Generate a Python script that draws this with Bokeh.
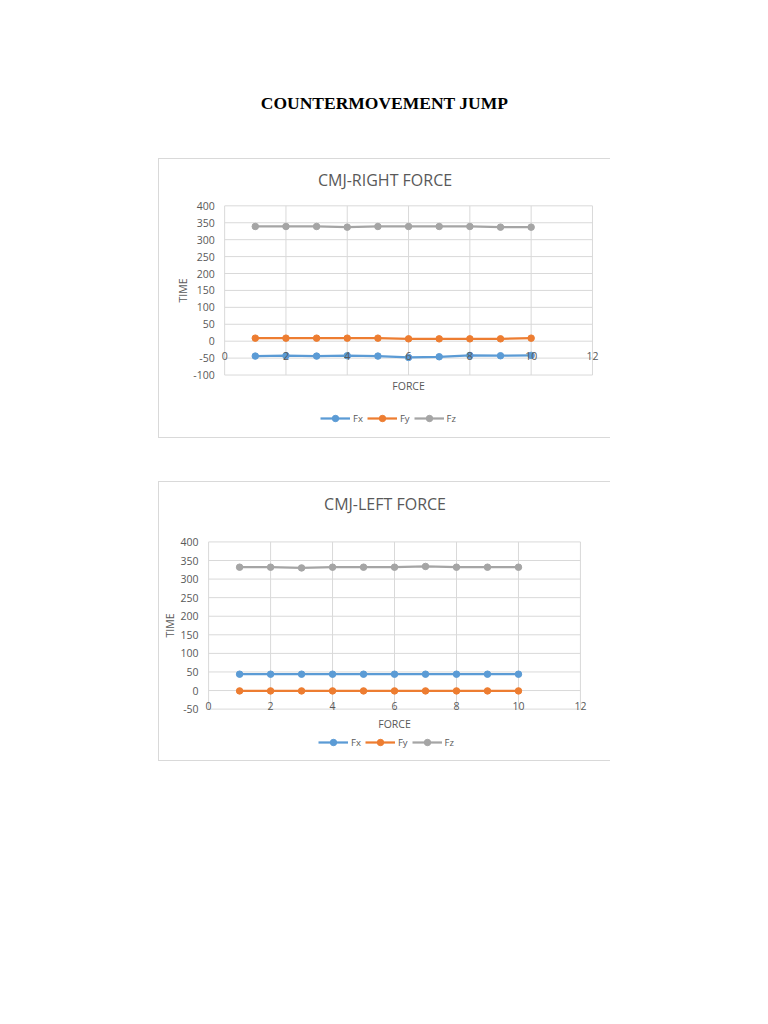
from bokeh.plotting import figure
from bokeh.models import Label, Legend, LegendItem, Spacer, FixedTicker, LinearAxis
from bokeh.layouts import column, row
from bokeh.embed import file_html
from bokeh.resources import INLINE

# ---------------- data ----------------
page_title = "COUNTERMOVEMENT JUMP"

right_title = "CMJ-RIGHT FORCE"
right_x = [1, 2, 3, 4, 5, 6, 7, 8, 9, 10]
right_fx = [-44, -43, -44, -43, -44, -48, -46, -42, -43, -42]
right_fy = [9, 9, 9, 9, 9, 7, 7, 7, 7, 9]
right_fz = [339, 339, 339, 337, 339, 339, 339, 339, 337, 337]
right_yticks = [-100, -50, 0, 50, 100, 150, 200, 250, 300, 350, 400]

left_title = "CMJ-LEFT FORCE"
left_x = [1, 2, 3, 4, 5, 6, 7, 8, 9, 10]
left_fx = [44, 44, 44, 44, 44, 44, 44, 44, 44, 44]
left_fy = [-1, -1, -1, -1, -1, -1, -1, -1, -1, -1]
left_fz = [332, 332, 330, 332, 332, 332, 334, 332, 332, 332]
left_yticks = [-50, 0, 50, 100, 150, 200, 250, 300, 350, 400]

x_ticks = [0, 2, 4, 6, 8, 10, 12]
series_names = ["Fx", "Fy", "Fz"]
series_colors = ["#5B9BD5", "#ED7D31", "#A5A5A5"]
x_label = "FORCE"
y_label = "TIME"

# ---------------- styling / layout ----------------
FONT = "Open Sans"
TXT = "#595959"
GRID = "#d9d9d9"
CH_W, CH_H = 451, 278          # inner size of each chart box (px)
BORDER = {"box-sizing": "content-box",
          "border-left": "1px solid #d9d9d9",
          "border-top": "1px solid #d9d9d9",
          "border-bottom": "1px solid #d9d9d9"}


def make_chart(title, xs, ys_list, yticks, area, title_off, force_off, legend_loc):
    al, at, aw, ah = area                      # plot area inside the box, px
    x0, x1 = x_ticks[0], x_ticks[-1]
    y0, y1 = yticks[0], yticks[-1]
    ux = aw / (x1 - x0)
    uy = ah / (y1 - y0)
    xr = (x0 - al / ux, x1 + (CH_W - al - aw) / ux)
    yr = (y0 - (CH_H - at - ah) / uy, y1 + at / uy)

    p = figure(width=CH_W, height=CH_H, x_range=xr, y_range=yr,
               x_axis_location=None, y_axis_location=None,
               output_backend="svg", toolbar_location=None,
               min_border=0, min_border_left=0, min_border_right=0,
               min_border_top=0, min_border_bottom=0)
    p.styles = BORDER
    p.outline_line_color = None
    p.background_fill_color = "white"
    p.border_fill_color = "white"
    for g in p.grid:
        g.visible = False

    # gridlines of the plot area
    nx, ny = len(x_ticks), len(yticks)
    p.segment(x0=x_ticks, y0=[y0] * nx, x1=x_ticks, y1=[y1] * nx,
              line_color=GRID, line_width=1)
    p.segment(x0=[x0] * ny, y0=yticks, x1=[x1] * ny, y1=yticks,
              line_color=GRID, line_width=1)

    xaxis = LinearAxis(fixed_location=0, ticker=FixedTicker(ticks=x_ticks),
                       bounds=(x0, x1),
                       major_label_overrides={t: str(t) for t in x_ticks})
    yaxis = LinearAxis(fixed_location=x0, ticker=FixedTicker(ticks=yticks),
                       bounds=(y0, y1), axis_label=y_label,
                       major_label_overrides={t: str(t) for t in yticks})
    for ax in (xaxis, yaxis):
        ax.axis_line_color = None
        ax.major_tick_line_color = None
        ax.minor_tick_line_color = None
        ax.major_tick_out = 0
        ax.major_tick_in = 0
        ax.minor_tick_out = 0
        ax.major_label_text_font = FONT
        ax.major_label_text_font_size = "10.5px"
        ax.major_label_text_color = TXT
    xaxis.major_label_standoff = 11
    yaxis.major_label_standoff = 10
    yaxis.axis_label_text_font = FONT
    yaxis.axis_label_text_font_size = "10.5px"
    yaxis.axis_label_text_font_style = "normal"
    yaxis.axis_label_text_color = TXT
    yaxis.axis_label_standoff = 0

    items = []
    for name, color, ys in zip(series_names, series_colors, ys_list):
        l = p.line(xs, ys, line_color=color, line_width=2.25)
        s = p.scatter(xs, ys, size=6.5, fill_color=color, line_color=color)
        items.append(LegendItem(label=name, renderers=[l, s]))

    p.add_layout(xaxis, "below")
    p.add_layout(yaxis, "left")

    legend = Legend(items=items, orientation="horizontal", location=legend_loc,
                    border_line_color=None, background_fill_alpha=0,
                    padding=0, margin=0, spacing=4, glyph_width=30,
                    glyph_height=16, label_height=16, label_width=0,
                    label_standoff=3,
                    label_text_font=FONT, label_text_font_size="9.5px",
                    label_text_color=TXT)
    p.add_layout(legend)

    xc = (x0 + x1) / 2
    p.add_layout(Label(x=xc, y=y1, x_offset=title_off[0], y_offset=title_off[1],
                       text=title, text_align="center", text_baseline="middle",
                       text_font=FONT, text_font_size="16px", text_color=TXT))
    p.add_layout(Label(x=xc, y=y0, x_offset=0, y_offset=force_off,
                       text=x_label, text_align="center", text_baseline="middle",
                       text_font=FONT, text_font_size="10.5px", text_color=TXT))
    return p


p1 = make_chart(right_title, right_x, [right_fx, right_fy, right_fz], right_yticks,
                (65, 46, 367, 168), (-23.5, 26), -10.5, (161, 13))
p2 = make_chart(left_title, left_x, [left_fx, left_fy, left_fz], left_yticks,
                (49, 59, 371, 166), (-9.5, 38), -15, (159, 12))

# page title
TW, TH = CH_W + 1, 158
tp = figure(width=TW, height=TH, x_range=(0, TW), y_range=(0, TH),
            x_axis_location=None, y_axis_location=None,
            output_backend="svg", toolbar_location=None,
            min_border=0, min_border_left=0, min_border_right=0,
            min_border_top=0, min_border_bottom=0)
tp.outline_line_color = None
for g in tp.grid:
    g.visible = False
tp.add_layout(Label(x=TW / 2, y=TH - 102, text=page_title, text_align="center",
                    text_baseline="middle", text_font="Liberation Serif",
                    text_font_style="bold", text_font_size="17.5px", text_color="#000000"))

col = column(tp, p1, Spacer(height=43), p2)
lay = row(Spacer(width=158), col)

open("out.html", "w").write(file_html(lay, INLINE))
